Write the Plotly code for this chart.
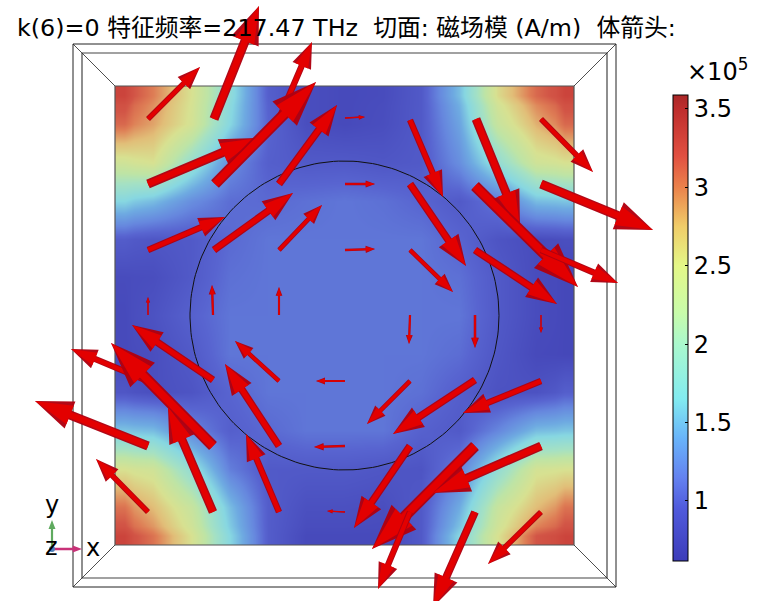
import numpy as np
import plotly.graph_objects as go

font = "DejaVu Sans, Noto Sans CJK SC"
title = "k(6)=0 特征频率=217.47 THz  切面: 磁场模 (A/m)  体箭头:"

# slice plane, in image units
x_nodes = [115, 153, 191, 230, 268, 306, 344, 383, 421, 459, 497, 536, 574]
y_nodes = [86, 124, 162, 201, 239, 277, 315, 354, 392, 430, 469, 507, 545]

# |H| / 1e5
h_field = [
    [3.40, 3.00, 2.50, 1.75, 0.90, 0.74, 0.70, 0.72, 0.85, 1.50, 2.55, 3.10, 3.40],
    [3.10, 2.85, 2.45, 1.65, 0.95, 0.74, 0.70, 0.74, 0.85, 1.35, 2.30, 2.80, 3.10],
    [2.40, 2.50, 1.85, 1.20, 0.90, 0.85, 0.85, 0.82, 0.85, 1.20, 1.80, 2.40, 2.50],
    [1.65, 1.50, 1.20, 1.00, 0.98, 1.02, 1.05, 1.02, 0.95, 0.85, 1.05, 1.50, 1.55],
    [0.88, 0.82, 0.85, 0.98, 1.05, 1.05, 1.05, 1.05, 1.05, 0.95, 0.80, 0.72, 0.75],
    [0.72, 0.74, 0.85, 1.02, 1.05, 1.05, 1.05, 1.05, 1.05, 1.02, 0.85, 0.72, 0.68],
    [0.70, 0.78, 0.92, 1.05, 1.05, 1.05, 1.05, 1.05, 1.05, 1.05, 0.85, 0.72, 0.68],
    [0.70, 0.74, 0.85, 1.05, 1.05, 1.05, 1.05, 1.05, 1.05, 1.00, 0.82, 0.70, 0.68],
    [0.82, 0.75, 0.80, 0.95, 1.05, 1.05, 1.05, 1.05, 1.02, 0.90, 0.78, 0.78, 0.90],
    [1.55, 1.50, 1.15, 0.90, 0.98, 1.05, 1.05, 1.05, 0.92, 0.85, 1.15, 1.50, 1.55],
    [2.50, 2.40, 1.80, 1.10, 0.85, 0.85, 0.85, 0.82, 0.80, 1.10, 1.80, 2.45, 2.50],
    [3.05, 2.75, 2.30, 1.50, 0.88, 0.76, 0.76, 0.74, 0.85, 1.40, 2.30, 2.75, 3.05],
    [3.40, 3.05, 2.50, 1.65, 0.88, 0.70, 0.70, 0.70, 0.85, 1.65, 2.50, 3.20, 3.40],
]

# arrows: tail and tip
tail_x = [148, 214, 279, 345, 410, 476, 541,
          148, 215, 279, 345, 410, 475, 541,
          148, 214, 279, 345, 410, 475, 541,
          148, 213, 279, 410, 475, 541,
          148, 213, 279, 345, 410, 475, 541,
          148, 213, 279, 345, 410, 475, 541,
          148, 213, 279, 345, 410, 475, 541]
tail_y = [119, 119, 119, 118, 120, 119, 119,
          184, 184, 184, 184, 184, 186, 184,
          250, 250, 250, 250, 250, 250, 250,
          315, 315, 315, 315, 315, 315,
          381, 380, 381, 381, 381, 380, 381,
          446, 446, 446, 446, 446, 446, 446,
          512, 512, 512, 512, 512, 512, 512]
tip_x = [200, 259, 312, 365, 443, 520, 593,
         257, 316, 337, 375, 466, 578, 653,
         225, 293, 322, 375, 453, 557, 618,
         148, 212, 279, 409, 475, 541,
         71, 132, 235, 316, 367, 393, 463,
         35, 111, 225, 314, 354, 372, 433,
         96, 168, 246, 327, 378, 433, 488]
tip_y = [67, 6, 42, 117, 197, 227, 172,
         138, 82, 105, 184, 266, 287, 230,
         217, 193, 205, 249, 292, 304, 283,
         297, 285, 287, 344, 348, 333,
         349, 325, 341, 381, 424, 434, 413,
         401, 343, 364, 447, 528, 549, 493,
         459, 407, 434, 511, 589, 607, 564]

cbar_ticks = [1, 1.5, 2, 2.5, 3, 3.5]
z_min, z_max = 0.617, 3.589
# colour stops: the bar is clean, the slice is a bit duller
ramp_vals = [0.617, 0.95, 1.15, 1.4, 1.65, 2.0, 2.2, 2.5, 2.75, 3.0, 3.2, 3.5, 3.589]
bar_cols = ["rgb(60,60,185)", "rgb(80,90,220)", "rgb(100,130,240)", "rgb(105,180,250)",
            "rgb(130,235,240)", "rgb(170,248,205)", "rgb(200,252,170)", "rgb(228,247,135)",
            "rgb(240,205,105)", "rgb(235,130,75)", "rgb(225,80,65)", "rgb(190,45,45)",
            "rgb(170,40,40)"]
heat_cols = ["rgb(65,65,180)", "rgb(88,100,208)", "rgb(102,135,222)", "rgb(110,170,225)",
             "rgb(135,215,225)", "rgb(165,225,195)", "rgb(190,228,165)", "rgb(215,225,145)",
             "rgb(225,190,120)", "rgb(222,125,85)", "rgb(210,85,70)", "rgb(200,60,55)",
             "rgb(190,50,50)"]


def scale(cols):
    return [[(v - z_min) / (z_max - z_min), c] for v, c in zip(ramp_vals, cols)]


def arrow_xy(x0, y0, x1, y1, width=1.0):
    length = np.hypot(x1 - x0, y1 - y0)
    ux, uy = (x1 - x0) / length, (y1 - y0) / length
    nx, ny = -uy, ux
    shaft = 0.038 * length * width
    head = 0.12 * length * width
    bx, by = x1 - 0.31 * length * ux, y1 - 0.31 * length * uy
    px = [x0 + nx * shaft, bx + nx * shaft, bx + nx * head, x1, bx - nx * head, bx - nx * shaft, x0 - nx * shaft, x0 + nx * shaft]
    py = [y0 + ny * shaft, by + ny * shaft, by + ny * head, y1, by - ny * head, by - ny * shaft, y0 - ny * shaft, y0 + ny * shaft]
    return px, py


def add_line(fig, xs, ys, color, width):
    fig.add_trace(go.Scatter(x=xs, y=ys, mode="lines", line=dict(color=color, width=width),
                             hoverinfo="skip", showlegend=False))


def add_arrow(fig, x0, y0, x1, y1, color, opacity=1.0, width=1.0):
    px, py = arrow_xy(x0, y0, x1, y1, width)
    fig.add_trace(go.Scatter(x=px, y=py, mode="lines", fill="toself", fillcolor=color,
                             line=dict(width=0), opacity=opacity,
                             hoverinfo="skip", showlegend=False))


fig = go.Figure()

# first and last cells are half width so that the nodes sit in the cell centres
x_edges = [115, 134] + [(a + b) / 2 for a, b in zip(x_nodes[1:-2], x_nodes[2:-1])] + [555, 574]
y_edges = [86, 105] + [(a + b) / 2 for a, b in zip(y_nodes[1:-2], y_nodes[2:-1])] + [526, 545]

fig.add_trace(go.Heatmap(
    x=x_edges, y=y_edges, z=h_field, zmin=z_min, zmax=z_max, zsmooth="best",
    colorscale=scale(heat_cols), showscale=False, hoverinfo="skip",
))

# the colour bar hangs on an empty marker trace, it has the clean colours
fig.add_trace(go.Scatter(
    x=[-50, -50], y=[-50, -50], mode="markers", hoverinfo="skip", showlegend=False,
    marker=dict(
        color=[z_min, z_max], cmin=z_min, cmax=z_max, colorscale=scale(bar_cols), size=1,
        colorbar=dict(
            x=673 / 775, xanchor="left", xpad=0,
            y=(601 - 328) / 601, yanchor="middle", ypad=0,
            lenmode="pixels", len=466, thicknessmode="pixels", thickness=15,
            outlinecolor="black", outlinewidth=1,
            tickvals=cbar_ticks, ticks="inside", ticklen=3, tickcolor="black",
            tickprefix="\u2009",
            tickfont=dict(family=font, size=24, color="black"),
        ),
    ),
))

# box around the slice
add_line(fig, [73, 616, 616, 73, 73], [44, 44, 587, 587, 44], "#222", 1)
add_line(fig, [82, 607, 607, 82, 82], [53, 53, 578, 578, 53], "#444", 1.2)
add_line(fig, [115, 574, 574, 115, 115], [86, 86, 545, 545, 86], "#555", 1.2)
add_line(fig, [73, 115, None, 616, 574, None, 73, 115, None, 616, 574],
         [44, 86, None, 44, 86, None, 587, 545, None, 587, 545], "#222", 0.8)

# air/rod boundary
theta = np.linspace(0, 2 * np.pi, 200)
add_line(fig, 344.5 + 154.5 * np.cos(theta), 315.5 + 154.5 * np.sin(theta), "#111", 1)

for x0, y0, x1, y1 in zip(tail_x, tail_y, tip_x, tip_y):
    add_arrow(fig, x0, y0, x1, y1, "rgb(175,0,15)", 0.97)
    add_arrow(fig, x0, y0, x1, y1, "rgb(228,0,0)", 0.97, 0.68)

# axis triad
add_arrow(fig, 52, 549, 52, 520, "rgb(95,170,95)")
add_arrow(fig, 52, 549, 82, 549, "rgb(200,50,120)")
fig.add_trace(go.Scatter(x=[52], y=[549], mode="markers", hoverinfo="skip", showlegend=False,
                         marker=dict(size=6, color="rgb(80,130,185)")))

for text, x, y in (("y", 52, 505), ("z", 51, 547), ("x", 93, 548)):
    fig.add_annotation(x=x, y=y, text=text, showarrow=False, font=dict(family=font, size=24, color="black"))

fig.add_annotation(x=717, y=70, text="×10<sup>5</sup>", showarrow=False,
                   font=dict(family=font, size=24, color="black"))

fig.update_layout(
    width=775, height=601,
    margin=dict(l=0, r=0, t=0, b=0),
    paper_bgcolor="white", plot_bgcolor="white",
    showlegend=False,
    title=dict(text=title, x=17 / 775, xanchor="left", xref="container",
               y=1 - 28 / 601, yanchor="middle", yref="container",
               font=dict(family=font, size=23.8, color="black")),
    xaxis=dict(range=[0, 775], visible=False, domain=[0, 1]),
    yaxis=dict(range=[601, 0], visible=False, domain=[0, 1]),
)

fig.write_html("out.html", post_script="document.body.style.margin='0';",
               config=dict(displayModeBar=False))
